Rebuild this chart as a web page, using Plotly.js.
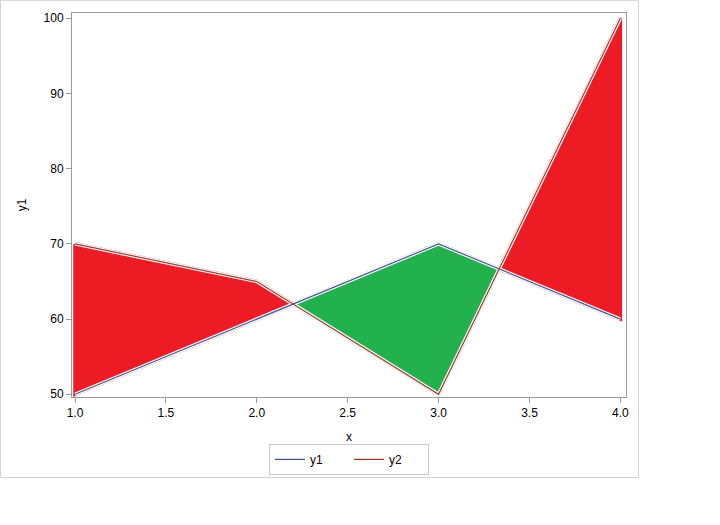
<!DOCTYPE html>
<html>
<head>
<meta charset="utf-8">
<script src="https://cdn.plot.ly/plotly-3.0.1.min.js"></script>
<style>html,body{margin:0;padding:0;background:#fff;}#chart{width:720px;height:525px;}</style>
</head>
<body>
<div id="chart"></div>
<script>
var xValues = [1, 2, 3, 4];
var y1Values = [50, 60, 70, 60];
var y2Values = [70, 65, 50, 100];
var xTickVals = [1, 1.5, 2, 2.5, 3, 3.5, 4];
var yTickVals = [50, 60, 70, 80, 90, 100];

var RED = '#ED1C24', GREEN = '#22B14C';

// Build the band polygons between y1 and y2, split at crossing points.
function buildRegions() {
  var pts = [];
  for (var i = 0; i < xValues.length; i++) {
    pts.push({x: xValues[i], a: y1Values[i], b: y2Values[i]});
    if (i < xValues.length - 1) {
      var d0 = y2Values[i] - y1Values[i], d1 = y2Values[i+1] - y1Values[i+1];
      if (d0 * d1 < 0) {
        var t = d0 / (d0 - d1);
        var xc = xValues[i] + t * (xValues[i+1] - xValues[i]);
        var yc = y1Values[i] + t * (y1Values[i+1] - y1Values[i]);
        pts.push({x: xc, a: yc, b: yc, cross: true});
      }
    }
  }
  var regions = [], cur = [pts[0]];
  for (var j = 1; j < pts.length; j++) {
    cur.push(pts[j]);
    if (pts[j].cross) { regions.push(cur); cur = [pts[j]]; }
  }
  if (cur.length > 1) regions.push(cur);
  return regions;
}

var traces = [];
buildRegions().forEach(function (reg) {
  var px = [], py = [], sign = 0;
  reg.forEach(function (p) { px.push(p.x); py.push(p.b); sign += (p.b - p.a); });
  for (var k = reg.length - 1; k >= 0; k--) { px.push(reg[k].x); py.push(reg[k].a); }
  px.push(reg[0].x); py.push(reg[0].b);
  var col = sign > 0 ? RED : GREEN;
  traces.push({x: px, y: py, mode: 'lines', fill: 'toself', fillcolor: col,
    line: {color: col, width: 3.5}, showlegend: false, hoverinfo: 'skip'});
});

// white halos
traces.push({x: xValues, y: y1Values, mode: 'lines', line: {color: '#ffffff', width: 3.5}, showlegend: false, hoverinfo: 'skip'});
traces.push({x: xValues, y: y2Values, mode: 'lines', line: {color: '#ffffff', width: 3.5}, showlegend: false, hoverinfo: 'skip'});
traces.push({x: xValues, y: y1Values, mode: 'lines', name: 'y1', line: {color: '#445694', width: 1.2}});
traces.push({x: xValues, y: y2Values, mode: 'lines', name: 'y2', line: {color: '#A23A2E', width: 1.2}});

var font = {family: 'Liberation Sans, Arial, sans-serif', size: 12, color: '#000'};
var layout = {
  width: 720, height: 525,
  margin: {l: 72, r: 94, t: 13, b: 128},
  paper_bgcolor: '#fff', plot_bgcolor: '#fff',
  font: font,
  showlegend: true,
  xaxis: {
    range: [0.9835, 4.031], tickvals: xTickVals, tickformat: '.1f',
    showgrid: false, zeroline: false, showline: true, mirror: true,
    linecolor: '#9a9a9a', linewidth: 1,
    ticks: 'outside', ticklen: 5, tickcolor: '#9a9a9a', tickfont: font,
    title: {text: 'x', font: font, standoff: 13}
  },
  yaxis: {
    range: [49.64, 100.7], tickvals: yTickVals,
    showgrid: false, zeroline: false, showline: true, mirror: true,
    linecolor: '#9a9a9a', linewidth: 1,
    ticks: 'outside', ticklen: 5, tickcolor: '#9a9a9a', tickfont: font,
    title: {text: 'y1', font: font, standoff: 14}
  },
  legend: {
    orientation: 'h', x: 0.5, xanchor: 'center', y: -0.122, yanchor: 'top',
    bordercolor: '#c8c8c8', borderwidth: 1, font: font, bgcolor: '#fff',
    entrywidth: 34, entrywidthmode: 'pixels'
  },
  shapes: [{
    type: 'rect', xref: 'paper', yref: 'paper', layer: 'below',
    x0: -0.129, x1: 1.0226, y0: -0.2096, y1: 1.033,
    line: {color: '#d3d3d3', width: 1}, fillcolor: 'rgba(0,0,0,0)'
  }]
};
Plotly.newPlot('chart', traces, layout, {displayModeBar: false, staticPlot: true});
</script>
</body>
</html>
